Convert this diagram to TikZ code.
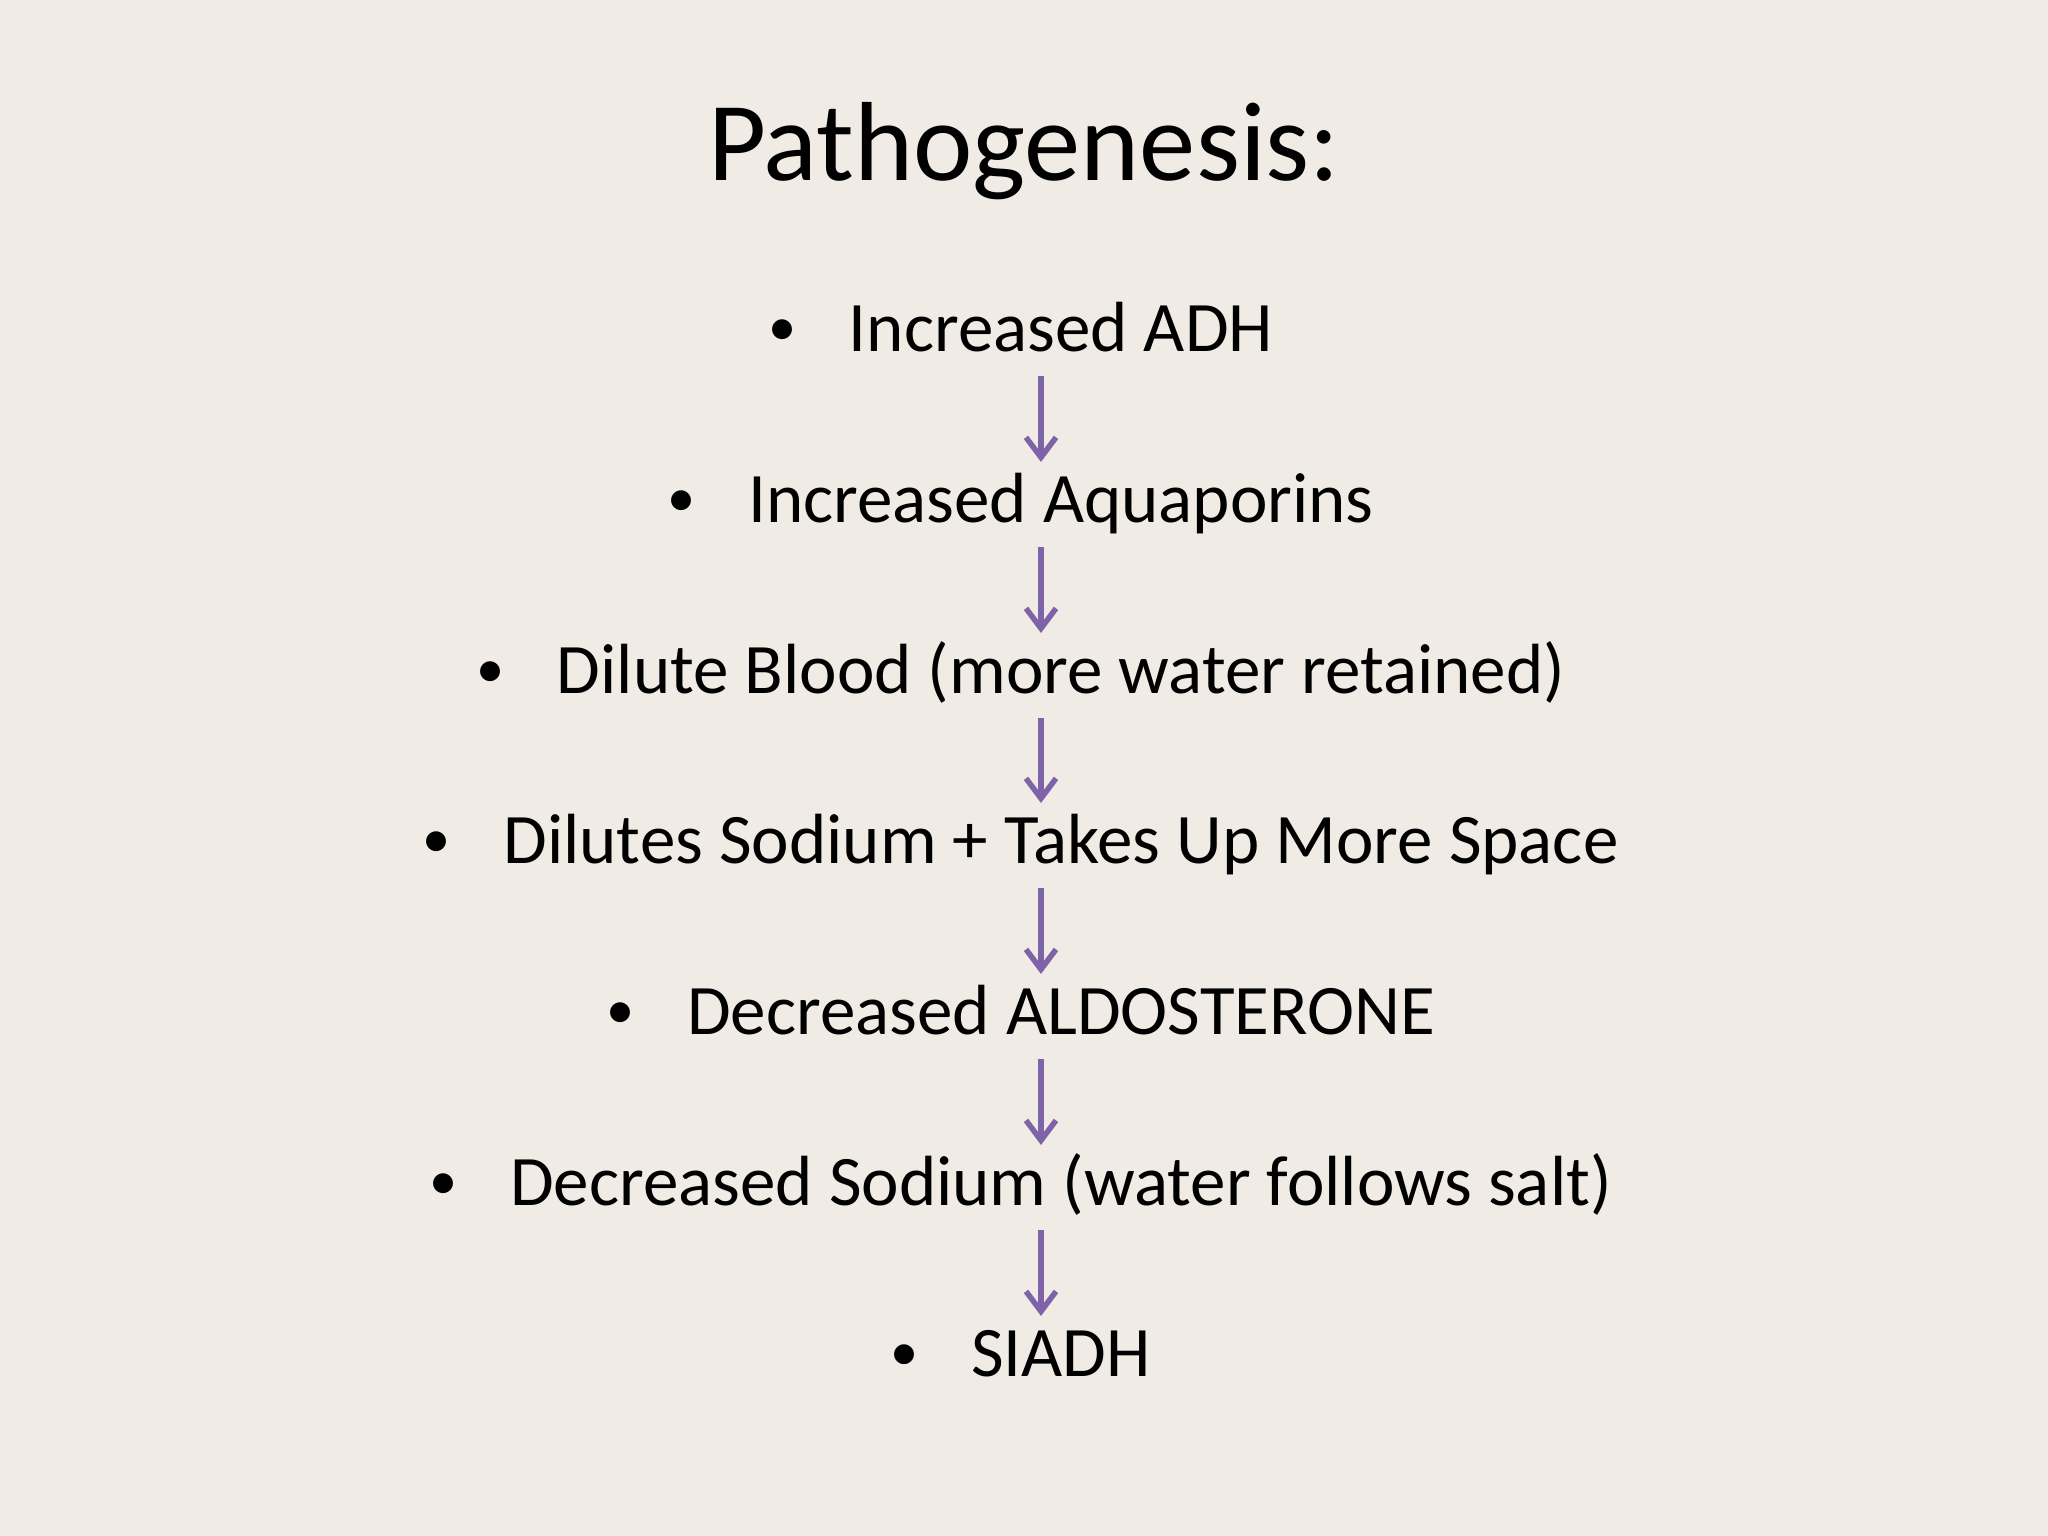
\documentclass[tikz,border=0pt]{standalone}
\usepackage{fontspec}
\setmainfont{Carlito}
\usetikzlibrary{arrows.meta}
\definecolor{bg}{HTML}{F0EBE4}
\definecolor{arrcol}{HTML}{7F63A8}
\begin{document}
\begin{tikzpicture}[x=0.01cm,y=-0.01cm,
  item/.style={inner sep=0pt, anchor=base, font=\fontsize{20.2pt}{24pt}\selectfont, text=black},
  bul/.style={inner sep=0pt, anchor=base, yshift=0.06cm, font=\fontsize{16pt}{20pt}\selectfont},
  arr/.style={draw=arrcol, line width=0.05cm, -{Straight Barb[length=0.2cm,width=0.3cm,line width=0.055cm]}},
  ttl/.style={inner sep=0pt, anchor=base, font=\fontsize{32pt}{38pt}\selectfont}]
\fill[bg] (0,0) rectangle (2048,1536);
\useasboundingbox (0,0) rectangle (2048,1536);
\node[ttl] (title) at (1024,180) {Pathogenesis:};
\node[item] (t1) at (1061,351) {Increased ADH};
\node[item] (t2) at (1061,522) {Increased Aquaporins};
\node[item] (t3) at (1061,693) {Dilute Blood (more water retained)};
\node[item] (t4) at (1061,863) {Dilutes Sodium + Takes Up More Space};
\node[item] (t5) at (1061,1034) {Decreased ALDOSTERONE};
\node[item] (t6) at (1061,1205) {Decreased Sodium (water follows salt)};
\node[item] (t7) at (1061,1376) {SIADH};
\foreach \i in {1,...,7}{
  \path (t\i.base west) ++(-66,0) node[bul] (b\i) {•};
}
\foreach \i/\j in {1/2,2/3,3/4,4/5,5/6,6/7}{
  \draw[arr] ([xshift=-0.2cm,yshift=-0.25cm]t\i.base) -- ([xshift=-0.2cm,yshift=0.6cm]t\j.base);
}
\end{tikzpicture}
\end{document}
